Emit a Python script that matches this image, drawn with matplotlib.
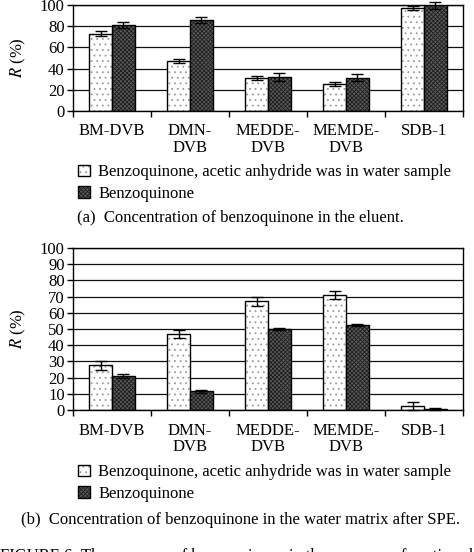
import matplotlib
matplotlib.use("Agg")
from matplotlib import pyplot as plt
import numpy as np

plt.rcParams['font.family'] = ['Liberation Serif', 'DejaVu Serif']
plt.rcParams['mathtext.fontset'] = 'stix'
plt.rcParams['hatch.linewidth'] = 0.6

# 数据
sorbents = ['BM-DVB', 'DMN-\nDVB', 'MEDDE-\nDVB', 'MEMDE-\nDVB', 'SDB-1']
series_names = ['Benzoquinone, acetic anhydride was in water sample', 'Benzoquinone']

# (a) eluent
eluent_anh = np.array([73, 47, 31, 25.5, 97])
eluent_anh_err = np.array([2, 2, 2, 2, 2])
eluent_bq = np.array([81, 86, 32, 31.5, 99.5])
eluent_bq_err = np.array([3, 3, 3.5, 3.5, 3.5])

# (b) water matrix after SPE
water_anh = np.array([27.5, 47, 67, 71, 2.5])
water_anh_err = np.array([2.5, 2.5, 2.5, 2.5, 2.5])
water_bq = np.array([21, 11.5, 50, 52.5, 0.7])
water_bq_err = np.array([1.2, 1, 0.8, 0.7, 0.5])

captions = ['(a)  Concentration of benzoquinone in the eluent.',
            '(b)  Concentration of benzoquinone in the water matrix after SPE.']

fs = 12
width = 0.29
x = np.arange(len(sorbents))

fig = plt.figure(figsize=(4.74, 5.52), dpi=100)


def draw_panel(ax, v1, e1, v2, e2, yticks):
    ax.set_axisbelow(True)
    ax.yaxis.grid(True, color='#111111', linewidth=0.9)
    # 浅色点状柱
    h1 = ax.bar(x - width / 2, v1, width, color='white', edgecolor='#9a9a9a',
                hatch='...', linewidth=0)
    k1 = ax.bar(x - width / 2, v1, width, fill=False, edgecolor='black', linewidth=1)
    # 深色网纹柱
    h2 = ax.bar(x + width / 2, v2, width, color='#5a5a5a', edgecolor='#1e1e1e',
                hatch='xxxxxxxx', linewidth=0)
    k2 = ax.bar(x + width / 2, v2, width, fill=False, edgecolor='black', linewidth=1)
    ax.errorbar(x - width / 2, v1, yerr=e1, fmt='none', ecolor='black',
                elinewidth=1, capsize=4.5, capthick=1, clip_on=False)
    ax.errorbar(x + width / 2, v2, yerr=e2, fmt='none', ecolor='black',
                elinewidth=1, capsize=4.5, capthick=1, clip_on=False)
    ax.set_xlim(-0.5, len(sorbents) - 0.5)
    ax.set_ylim(0, 100)
    ax.set_yticks(yticks)
    ax.tick_params(axis='y', labelsize=fs, length=4, width=1, pad=2)
    # 分类边界刻度
    ax.set_xticks(np.arange(len(sorbents) + 1) - 0.5)
    ax.set_xticklabels([])
    ax.tick_params(axis='x', which='major', length=4, width=1)
    ax.set_xticks(x, minor=True)
    ax.set_xticklabels(sorbents, minor=True, fontsize=fs, linespacing=1.05)
    ax.tick_params(axis='x', which='minor', length=0, pad=9)
    for s in ax.spines.values():
        s.set_linewidth(1)
    ax.set_ylabel('$R$ (%)', fontsize=fs)
    ax.yaxis.set_label_coords(-0.115, 0.5)
    return [(h1[0], k1[0]), (h2[0], k2[0])]


def add_legend(ax, handles, top_px):
    ax.legend(handles=handles, labels=series_names, loc='upper left',
              bbox_to_anchor=(0.148, 1 - top_px / 552),
              bbox_transform=fig.transFigure, frameon=False, fontsize=fs,
              borderpad=0, handlelength=0.7, handleheight=0.7, handletextpad=0.5,
              labelspacing=0.35)


ax1 = fig.add_axes([0.154, 0.799, 0.823, 0.192])
hd1 = draw_panel(ax1, eluent_anh, eluent_anh_err, eluent_bq, eluent_bq_err,
                 np.arange(0, 101, 20))
add_legend(ax1, hd1, 156)
fig.text(0.507, 1 - 218 / 552, captions[0], ha='center', va='center', fontsize=fs)

ax2 = fig.add_axes([0.154, 0.2572, 0.823, 0.2935])
hd2 = draw_panel(ax2, water_anh, water_anh_err, water_bq, water_bq_err,
                 np.arange(0, 101, 10))
add_legend(ax2, hd2, 456)
fig.text(0.507, 1 - 520 / 552, captions[1], ha='center', va='center', fontsize=fs)

fig.text(0.0, 1 - 556 / 552, 'FIGURE 6: The recovery of benzoquinone in the presence of acetic anhydride',
         ha='left', va='center', fontsize=fs)

fig.savefig('out.png', dpi=100)
